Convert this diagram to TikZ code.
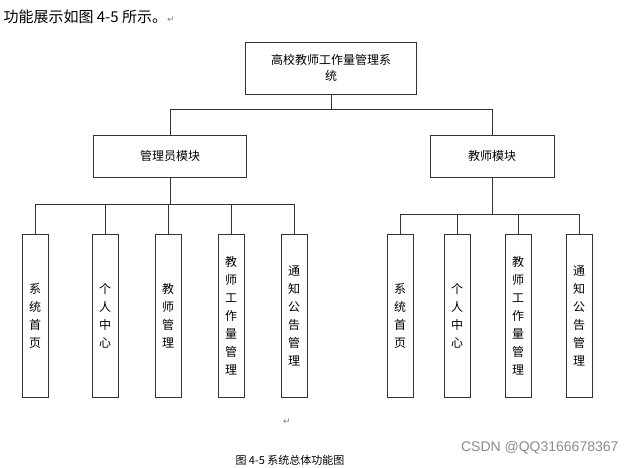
\documentclass[tikz,border=0pt]{standalone}
\usepackage{fontspec}
\newfontfamily\cjk{Noto Sans CJK SC}
\newfontfamily\sym{DejaVu Sans}
\usetikzlibrary{positioning}
\tikzset{
  box/.style = {draw=black!80, thick, align=center, font=\cjk\fontsize{12pt}{16pt}\selectfont,
    inner sep=0pt},
  leaf/.style = {box, minimum width=26pt, minimum height=163pt,
    font=\cjk\fontsize{12pt}{18pt}\selectfont},
  wire/.style = {draw=black!80, thick}
}
\begin{document}
\begin{tikzpicture}[x=1pt,y=-1pt]
\clip (0,0) rectangle (635,468);
\fill[white] (0,0) rectangle (635,468);
\node[anchor=west, font=\cjk\fontsize{15pt}{18pt}\selectfont] (intro) at (0,17) {功能展示如图 4-5 所示。\textcolor{gray}{\sym\small ↵}};
% root and modules
\node[box, minimum width=171pt, minimum height=52pt] (sys) at (331,68) {高校教师工作量管理系\\统};
\node[box, minimum width=153pt, minimum height=42pt] (admin) at (170,156) {管理员模块};
\node[box, minimum width=124pt, minimum height=42pt] (teach) at (492,156) {教师模块};
\draw[wire] (sys.south) -- (sys.south |- 0,109);
\draw[wire] (admin.north) |- (teach.north |- 0,109) -- (teach.north);
% leaves
\foreach \n/\x/\t in {a1/35/系\\统\\首\\页, a2/105/个\\人\\中\\心, a3/168/教\\师\\管\\理,
    a4/231/教\\师\\工\\作\\量\\管\\理, a5/294/通\\知\\公\\告\\管\\理,
    t1/400/系\\统\\首\\页, t2/457/个\\人\\中\\心, t3/518/教\\师\\工\\作\\量\\管\\理,
    t4/579/通\\知\\公\\告\\管\\理}
  \node[leaf] (\n) at (\x,316) {\t};
\draw[wire] (admin.south) -- (admin.south |- 0,204);
\draw[wire] (a1.north) |- (a5.north |- 0,204) -- (a5.north);
\foreach \n in {a2,a3,a4} \draw[wire] (\n.north) -- (\n.north |- 0,204);
\draw[wire] (teach.south) -- (teach.south |- 0,214);
\draw[wire] (t1.north) |- (t4.north |- 0,214) -- (t4.north);
\foreach \n in {t2,t3} \draw[wire] (\n.north) -- (\n.north |- 0,214);
\node[font=\sym\small, text=gray] (ret) at (287,422) {↵};
\node[anchor=east, font=\fontspec{Liberation Sans}\fontsize{14pt}{16pt}\selectfont, text=black!45] (mark) at (622,448) {CSDN @QQ3166678367};
\node[font=\cjk\fontsize{11pt}{13pt}\selectfont] (cap) at (290,460) {图 4-5 系统总体功能图};
\end{tikzpicture}
\end{document}
